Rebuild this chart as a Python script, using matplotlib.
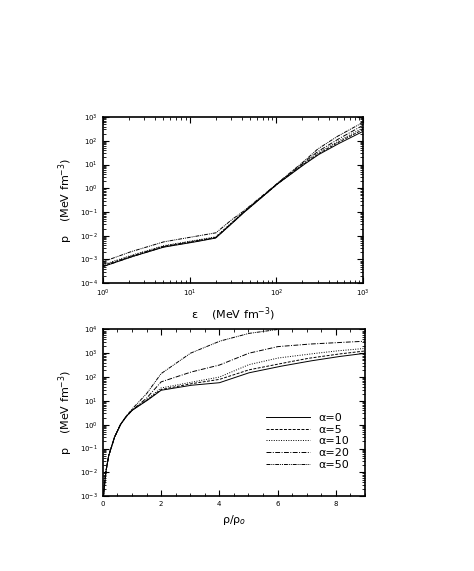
import matplotlib
matplotlib.use("Agg")
import matplotlib.pyplot as plt
import numpy as np

# top panel: p vs energy density (log-log), knots
EPS = [1, 2, 5, 10, 20, 30, 40, 70, 100, 200, 300, 500, 1000]
P_TOP = {
    "α=0":  [5.0e-4, 1.2e-3, 3.3e-3, 5.0e-3, 8.0e-3, 0.03, 0.08, 0.45, 1.4, 9, 25, 70, 250],
    "α=5":  [5.5e-4, 1.3e-3, 3.6e-3, 5.5e-3, 8.5e-3, 0.032, 0.085, 0.46, 1.4, 9.5, 27, 80, 300],
    "α=10": [6.0e-4, 1.4e-3, 3.8e-3, 5.8e-3, 9.0e-3, 0.034, 0.087, 0.47, 1.45, 10, 30, 90, 350],
    "α=20": [5.0e-4, 1.2e-3, 3.4e-3, 5.2e-3, 8.2e-3, 0.031, 0.082, 0.46, 1.45, 11, 35, 110, 450],
    "α=50": [8.0e-4, 2.0e-3, 5.5e-3, 8.5e-3, 1.3e-2, 0.045, 0.095, 0.5, 1.5, 12, 45, 150, 600],
}
# bottom panel: p vs rho/rho0
RHO = [0.02, 0.1, 0.2, 0.4, 0.6, 0.8, 1.0, 1.5, 2, 3, 4, 5, 6, 7, 8, 9]
P_BOT = {
    "α=0":  [1e-3, 1e-2, 0.05, 0.3, 1.0, 2.2, 4, 10, 28, 45, 58, 150, 270, 450, 700, 1000],
    "α=5":  [1e-3, 1e-2, 0.05, 0.3, 1.0, 2.2, 4, 10.5, 30, 52, 80, 200, 350, 600, 900, 1250],
    "α=10": [1e-3, 1e-2, 0.05, 0.3, 1.0, 2.2, 4, 11, 35, 60, 100, 330, 630, 900, 1250, 1600],
    "α=20": [1e-3, 1e-2, 0.05, 0.3, 1.0, 2.2, 4, 13, 63, 160, 320, 1000, 1900, 2400, 2800, 3200],
    "α=50": [1e-3, 1e-2, 0.05, 0.3, 1.0, 2.3, 4.5, 20, 140, 1000, 3200, 6800, 10000, np.nan, np.nan, np.nan],
}
STYLES = {
    "α=0": "-", "α=5": (0, (3, 1.5)), "α=10": (0, (1, 1.5)),
    "α=20": (0, (5, 1.5, 1, 1.5)), "α=50": (0, (4, 1, 1, 1, 1, 1)),
}


def style_axes(ax):
    ax.tick_params(which="both", direction="in", top=True, right=True, labelsize=5)
    ax.tick_params(which="major", length=4)
    ax.tick_params(which="minor", length=2)
    for s in ax.spines.values():
        s.set_linewidth(1.2)


fig = plt.figure(figsize=(4.74, 5.71), dpi=100)
ax1 = fig.add_axes([0.217, 0.504, 0.549, 0.291])
ax2 = fig.add_axes([0.217, 0.131, 0.553, 0.292])

for name, vals in P_TOP.items():
    x = np.logspace(0, 3, 300)
    y = 10 ** np.interp(np.log10(x), np.log10(EPS), np.log10(vals))
    ax1.plot(x, y, color="k", lw=0.7, ls=STYLES[name])
ax1.set_xscale("log")
ax1.set_yscale("log")
ax1.set_xlim(1, 1000)
ax1.set_ylim(1e-4, 1e3)
ax1.set_xlabel("ε    (MeV fm$^{-3}$)", fontsize=8)
ax1.set_ylabel("p    (MeV fm$^{-3}$)", fontsize=8)
style_axes(ax1)

for name, vals in P_BOT.items():
    x = np.linspace(0.02, 9, 400)
    v = np.array(vals, dtype=float)
    ok = ~np.isnan(v)
    rx = np.array(RHO)[ok]
    x = x[x <= rx[-1]]
    y = 10 ** np.interp(x, rx, np.log10(v[ok]))
    ax2.plot(x, y, color="k", lw=0.7, ls=STYLES[name], label=name)
ax2.set_yscale("log")
ax2.set_xlim(0, 9)
ax2.set_ylim(1e-3, 1e4)
ax2.set_xticks([0, 2, 4, 6, 8])
ax2.set_xticks(np.arange(0, 9.5, 0.5), minor=True)
ax2.set_xlabel("ρ/ρ$_o$", fontsize=8)
ax2.set_ylabel("p    (MeV fm$^{-3}$)", fontsize=8)
style_axes(ax2)
ax2.legend(loc="lower right", bbox_to_anchor=(0.98, 0.1), frameon=False,
           fontsize=8, handlelength=4, labelspacing=0.15)

fig.savefig("out.png", dpi=100)
